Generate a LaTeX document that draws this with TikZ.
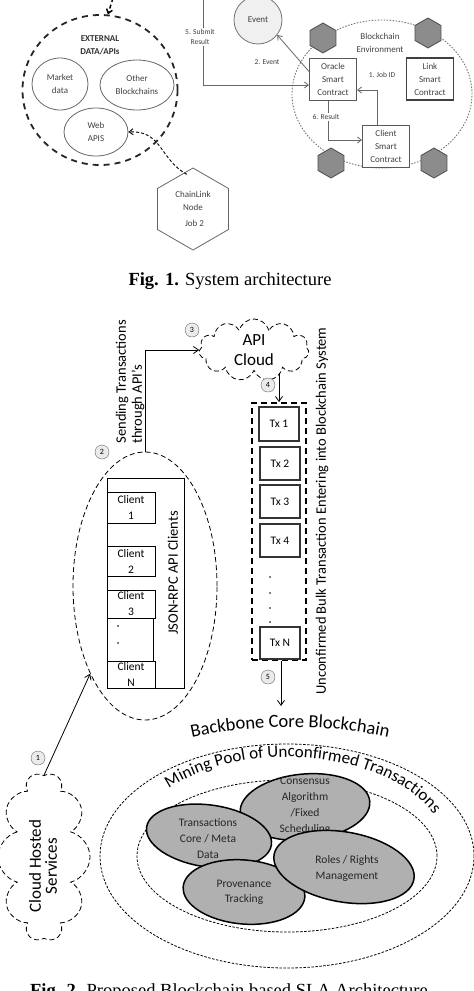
\documentclass[tikz,border=0pt]{standalone}
\usepackage{fontspec}
\setmainfont{Carlito}
\newfontfamily\capfont{Liberation Serif}
\usetikzlibrary{shapes.geometric,shapes.symbols,decorations.text,arrows.meta}
\newcommand\fsmall{\fontsize{9}{13}\selectfont}
\newcommand\ftiny{\fontsize{7.5}{10}\selectfont}
\newcommand\fnumb{\fontsize{8}{8}\selectfont}
\newcommand\fcl{\fontsize{11.5}{16}\selectfont}
\newcommand\fmid{\fontsize{14.5}{16}\selectfont}
\newcommand\fbig{\fontsize{17}{20}\selectfont}
\newcommand\fcap{\capfont\fontsize{18.5}{20}\selectfont}
\newcommand\hexa[2]{\filldraw[fill=black!45, draw=black!70, line width=0.8pt] (#1) +(90:#2) -- +(150:#2) -- +(210:#2) -- +(270:#2) -- +(330:#2) -- +(30:#2) -- cycle;}
\begin{document}
\begin{tikzpicture}[x=1pt,y=1pt,
  g1/.style={draw=black!60, line width=0.8pt},
  gtext/.style={font=\fsmall, text=black!75, align=center},
  sbox/.style={draw=black!65, line width=1pt, fill=white, minimum width=47pt, minimum height=42pt, inner sep=0pt, align=center, font=\fsmall, text=black!75},
  lbl/.style={font=\ftiny, text=black!75, fill=white, inner sep=1pt, align=center},
  numc/.style={circle, draw=black!60, fill=black!8, minimum size=14pt, inner sep=0pt, font=\fnumb},
  cbox/.style={draw=black, line width=0.8pt, fill=white, minimum width=48pt, inner sep=0pt, align=center, font=\fcl},
  txb/.style={draw=black!80, line width=1.3pt, minimum width=40pt, minimum height=33pt, inner sep=0pt, font=\fcl},
  gel/.style={fill=black!31, draw=black, line width=1.5pt},
  arr/.style={-{Straight Barb[length=5pt,width=7pt]}, line width=0.8pt},
  garr/.style={-{Straight Barb[length=4pt,width=6pt]}, draw=black!60, line width=0.8pt},
  dash1/.style={dash pattern=on 5pt off 3pt},
  dot1/.style={dash pattern=on 2.5pt off 1.5pt, line width=0.8pt},
]
\useasboundingbox (0,0) rectangle (474,-991);

% ---------------- Fig. 1 ----------------
\node[ellipse, draw=black!85, line width=1.8pt, dash pattern=on 6pt off 5pt, minimum width=155, minimum height=150, inner sep=0] (ext) at (100,-90) {};
\node[font=\fsmall\bfseries, align=center, text=black!80] (extt) at (100,-45) {EXTERNAL\\DATA/APIs};
\node[ellipse, g1, gtext, minimum width=56, minimum height=52, inner sep=0] (mkt) at (60,-84) {Market\\data};
\node[ellipse, g1, gtext, minimum width=74, minimum height=50, inner sep=0] (oth) at (137,-85) {Other\\Blockchains};
\node[ellipse, g1, gtext, minimum width=64, minimum height=48, inner sep=0] (web) at (96,-132) {Web\\APIS};
\coordinate (topin) at (113,2);
\draw[-{Straight Barb[length=4pt,width=6pt]}, line width=1.5pt, dash pattern=on 4pt off 3pt] (topin) -- (ext.84);

\node[circle, inner sep=0, minimum size=70, gtext] (chain) at (193,-209) {ChainLink\\Node\\[3pt]\hspace*{3pt}Job 2};
\draw[black!60, line width=0.8pt] (chain.center) +(90:41) -- +(150:41) -- +(210:41) -- +(270:41) -- +(330:41) -- +(30:41) -- cycle;
\draw[-{Straight Barb[length=4pt,width=6pt]}, line width=0.9pt, dash pattern=on 3pt off 2pt] (chain.100) .. controls (160,-160) and (162,-130) .. (web.east);

\node[circle, draw=black!55, fill=black!6, line width=0.8pt, minimum size=48, inner sep=0, gtext] (event) at (258,-20) {Event};

\node[ellipse, draw=black!55, dash pattern=on 1.5pt off 1.5pt, line width=0.9pt, minimum width=180, minimum height=148, inner sep=0] (bce) at (382,-94) {};
\node[gtext] (bcet) at (380,-43) {Blockchain\\Environment};
\hexa{323,-38}{15}
\hexa{428,-33}{15}
\hexa{331,-163}{15}
\hexa{434,-163}{15}

\node[sbox] (oracle) at (333,-79) {Oracle\\Smart\\Contract};
\node[sbox, line width=1.2pt, draw=black!75] (link) at (430,-79) {Link\\Smart\\Contract};
\node[sbox] (client) at (386,-146) {Client\\Smart\\Contract};

\coordinate (t5) at (203,2);
\draw[garr] (t5) |- ([yshift=-6pt]oracle.west);
\node[lbl] (l5) at (200,-37) {5. Submit\\Result};
\draw[garr] ([yshift=-14pt]oracle.north west) -- (event.-38);
\node[lbl] (l2) at (267,-62) {2. Event};
\draw[garr] ([xshift=-9pt]client.north) |- ([yshift=-11pt]oracle.east);
\node[lbl] (l1) at (382,-75) {1. Job ID};
\draw[garr] ([xshift=-5pt]oracle.south) |- ([yshift=6pt]client.west);
\node[lbl] (l6) at (326,-117) {6. Result};

\node[font=\fcap, anchor=base] (cap1) at (230,-285) {\textbf{Fig. 1.} System architecture};

% ---------------- Fig. 2 ----------------
\node[cloud, cloud puffs=11, cloud ignores aspect, draw, dash1, line width=0.8pt, minimum width=110, minimum height=62, inner sep=0, align=center, font=\fbig] (api) at (254,-350) {API\\Cloud};
\node[numc] (n3) at (192,-330) {3};

\node[ellipse, draw, dash1, line width=0.8pt, minimum width=144, minimum height=268, inner sep=0] (cl) at (145,-586) {};
\node[numc] (n2) at (102,-452) {2};
\node[draw, line width=0.8pt, minimum width=77, minimum height=210, inner sep=0] (clients) at (145.5,-583) {};
\node[cbox, minimum height=31] (c1) at (131,-507.5) {Client\\1};
\node[cbox, minimum height=30] (c2) at (131,-561) {Client\\2};
\node[cbox, minimum height=28] (c3) at (131,-604) {Client\\3};
\node[draw, line width=0.8pt, minimum width=46, minimum height=43, inner sep=0] (cdots) at (130,-639.5) {};
\node[circle, fill, inner sep=0, minimum size=1.6] (cd1) at (118,-626) {};
\node[circle, fill, inner sep=0, minimum size=1.6] (cd2) at (118,-643) {};
\node[cbox, minimum height=27, font=\fontsize{11.5}{16}\selectfont] (cn) at (131,-674.5) {Client\\N};
\node[rotate=90, font=\fmid] (jr) at (173,-573) {JSON-RPC API Clients};

\draw[arr] (cl.north) |- (api.west);
\node[rotate=90, align=left, anchor=west, font=\fmid] (send) at (130,-447) {Sending Transactions\\through API's};

\node[draw, line width=1.8pt, dash pattern=on 6pt off 4pt, minimum width=54, minimum height=257, inner sep=0] (txbox) at (279,-531.5) {};
\node[txb, minimum height=34] (tx1) at (279,-424) {Tx 1};
\node[txb] (tx2) at (280,-463.5) {Tx 2};
\node[txb] (tx3) at (280,-501.5) {Tx 3};
\node[txb] (tx4) at (280,-540.5) {Tx 4};
\node[txb, minimum height=32] (txn) at (280,-643) {Tx N};
\node[circle, fill, inner sep=0, minimum size=1.6] (td1) at (270,-577) {};
\node[circle, fill, inner sep=0, minimum size=1.6] (td2) at (270,-593) {};
\node[circle, fill, inner sep=0, minimum size=1.6] (td3) at (270,-608) {};
\node[circle, fill, inner sep=0, minimum size=1.6] (td4) at (270,-622) {};
\coordinate (a4) at (279,-373);
\draw[arr] (a4) -- (txbox.north);
\node[numc] (n4) at (268,-385) {4};
\coordinate (a5) at (281,-706);
\draw[arr] ([xshift=2pt]txbox.south) -- (a5);
\node[numc] (n5) at (268,-677) {5};
\node[rotate=90, font=\fmid] (ubt) at (322,-511) {Unconfirmed Bulk Transaction Entering into Blockchain System};

\node[cloud, cloud puffs=10, cloud ignores aspect, draw, dash1, line width=0.8pt, minimum width=168, minimum height=92, rotate=90, inner sep=0] (chs) at (44,-857) {};
\node[rotate=90, align=center, font=\fontsize{17}{16}\selectfont] (chst) at (43,-866) {Cloud Hosted\\Services};
\node[numc] (n1) at (38,-758) {1};
\draw[arr] (chs.east) -- (cl.238);

\node[ellipse, draw, dot1, minimum width=374, minimum height=224, inner sep=0] (bcb) at (287,-856) {};
\node[ellipse, draw, dot1, minimum width=300, minimum height=152, inner sep=0] (mp) at (287,-856) {};
\path[decorate, decoration={text along path, text align=center, text={|\fontsize{18.5}{20}\selectfont|Backbone Core Blockchain}}] (290,-856) ++(118:251 and 129) arc[start angle=118, end angle=62, x radius=251, y radius=129];
\path[decorate, decoration={text along path, text align=center, text={|\fontsize{17}{20}\selectfont|Mining Pool of Unconfirmed Transactions}}] (287,-856) ++(147:162 and 99) arc[start angle=147, end angle=13, x radius=162, y radius=99];

\filldraw[gel, rotate around={5:(305,-807)}] (305,-807) ellipse [x radius=65, y radius=33];
\node[align=center, font=\fcl, text=black!85] (cons) at (305,-806) {Consensus\\Algorithm\\/Fixed\\Scheduling};
\filldraw[gel, rotate around={-8:(209,-836)}] (209,-836) ellipse [x radius=63, y radius=31];
\node[align=center, font=\fcl, text=black!85] (trc) at (208,-839) {Transactions\\Core / Meta\\Data};
\filldraw[gel, rotate around={-5:(244,-892)}] (244,-892) ellipse [x radius=61, y radius=32];
\node[align=center, font=\fontsize{11.5}{15}\selectfont, text=black!85] (prv) at (244,-892) {Provenance\\Tracking};
\filldraw[gel, rotate around={-10:(344,-867)}] (344,-867) ellipse [x radius=71, y radius=35];
\node[align=center, font=\fcl, text=black!85] (rol) at (347,-868) {Roles / Rights\\Management};

\node[font=\fcap, anchor=base] (cap2) at (229,-996) {\textbf{Fig. 2.} Proposed Blockchain based SLA Architecture};
\end{tikzpicture}
\end{document}
